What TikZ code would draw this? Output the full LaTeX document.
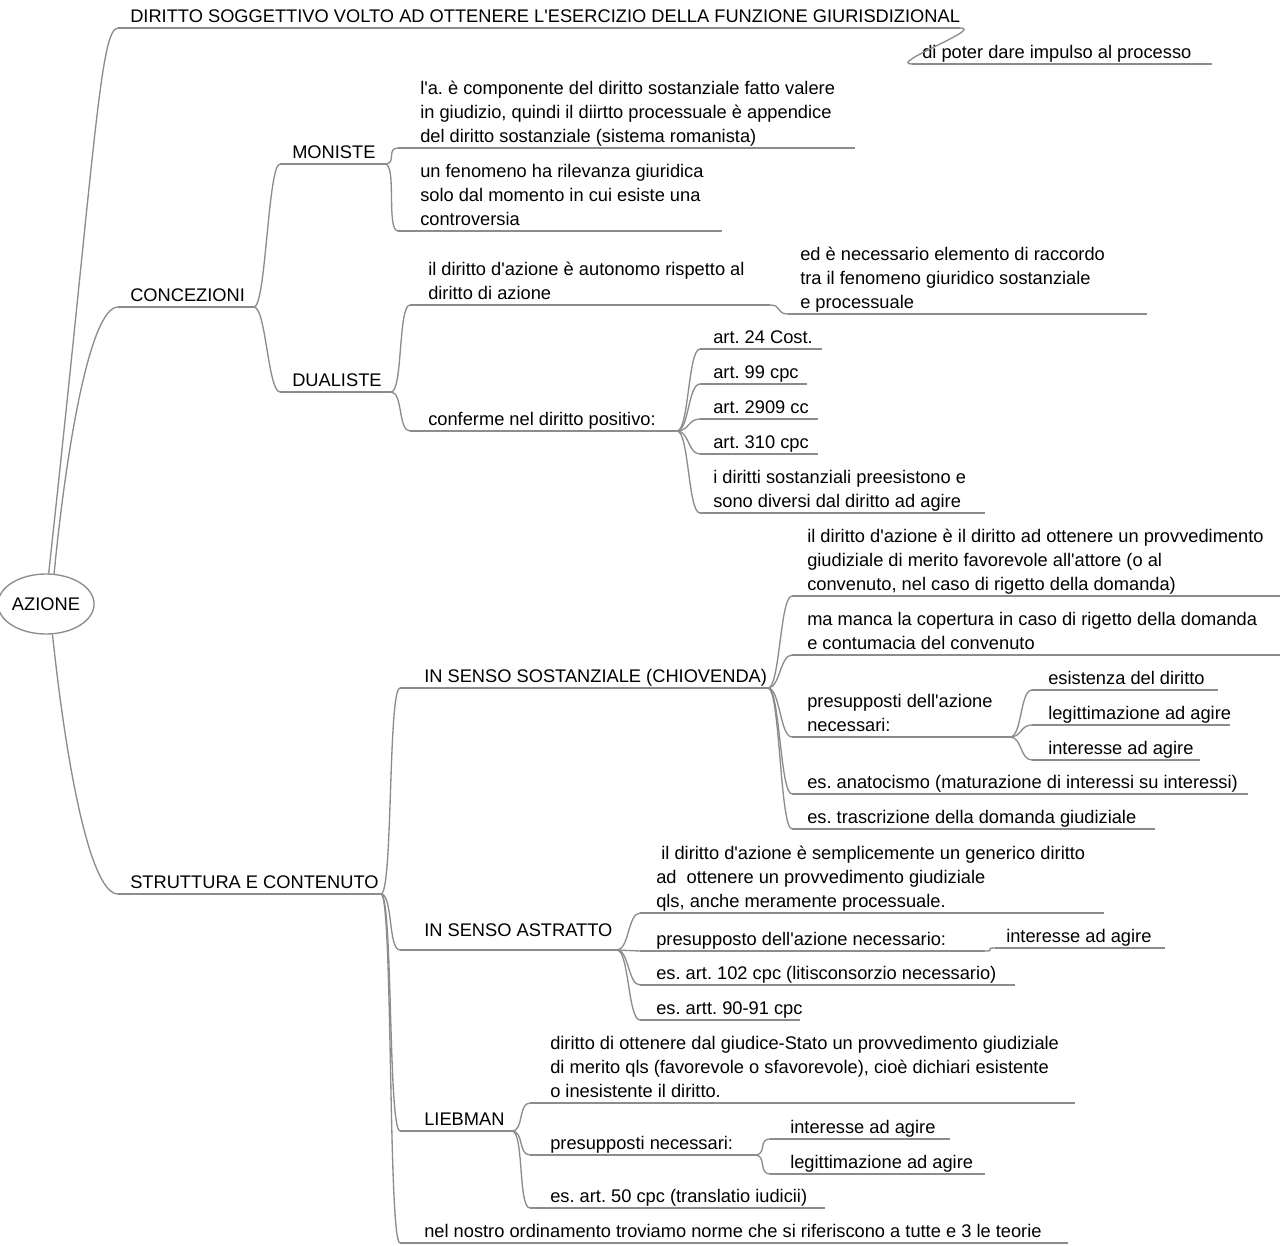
\documentclass[tikz,border=0pt]{standalone}
\usepackage{fontspec}
\setmainfont{Liberation Sans}[Ligatures=TeXOff]
\usetikzlibrary{shapes.geometric}
\definecolor{lc}{RGB}{140,140,140}
\newcommand\st{\rule[-4.2pt]{0pt}{13.8pt}}
\tikzset{
  txt/.style={inner sep=0pt, align=left, font=\fontsize{13.7}{18}\selectfont\frenchspacing},
  ul/.style={draw=lc, line width=1pt},
  br/.style={draw=lc, line width=1pt, to path={.. controls +(#1,0) and +(-#1,0) .. (\tikztotarget)}},
  br/.default=12
}
% name, underline left x, underline right x, underline y, text x, text bottom y, text
\newcommand\mmitem[7]{%
  \coordinate (#1-l) at (#2,#4);
  \coordinate (#1-r) at (#3,#4);
  \node[txt,anchor=south west] (#1) at (#5,#6) {#7};
  \draw[ul] (#1-l) -- (#1-r);
}
\frenchspacing
\begin{document}
\begin{tikzpicture}[x=0.75pt,y=-0.75pt]
\useasboundingbox (0,0) rectangle (1280,1245);
\node[draw=lc, line width=1pt, ellipse, minimum width=67.5pt, minimum height=45pt, inner sep=0pt, font=\fontsize{13.7}{18}\selectfont] (az) at (46,604) {AZIONE};

\mmitem{d1}{118}{960}{28}{130}{28}{\st DIRITTO SOGGETTIVO VOLTO AD OTTENERE L'ESERCIZIO DELLA FUNZIONE GIURISDIZIONAL}
\mmitem{d2}{912}{1212}{64}{922}{64}{\st di poter dare impulso al processo}
\mmitem{con}{118}{254}{307}{130}{307}{\st CONCEZIONI}
\mmitem{mon}{280}{385}{164}{292}{164}{\st MONISTE}
\mmitem{dua}{280}{391}{392}{292}{392}{\st DUALISTE}
\mmitem{m1}{398}{855}{148}{420}{148}{\st l'a. è componente del diritto sostanziale fatto valere\\\st in giudizio, quindi il diirtto processuale è appendice\\\st del diritto sostanziale (sistema romanista)}
\mmitem{m2}{398}{722}{231}{420}{231}{\st un fenomeno ha rilevanza giuridica\\\st solo dal momento in cui esiste una\\\st controversia}
\mmitem{du1}{410}{770}{305}{428}{305}{\st il diritto d'azione è autonomo rispetto al\\\st diritto di azione}
\mmitem{du1a}{788}{1147}{314}{800}{314}{\st ed è necessario elemento di raccordo\\\st tra il fenomeno giuridico sostanziale\\\st e processuale}
\mmitem{du2}{410}{677}{431}{428}{431}{\st conferme nel diritto positivo:}
\mmitem{a1}{700}{822}{349}{713}{349}{\st art. 24 Cost.}
\mmitem{a2}{700}{807}{384}{713}{384}{\st art. 99 cpc}
\mmitem{a3}{700}{818}{419}{713}{419}{\st art. 2909 cc}
\mmitem{a4}{700}{818}{454}{713}{454}{\st art. 310 cpc}
\mmitem{a5}{700}{985}{513}{713}{513}{\st i diritti sostanziali preesistono e\\\st sono diversi dal diritto ad agire}
\mmitem{str}{118}{381}{894}{130}{894}{\st STRUTTURA E CONTENUTO}
\mmitem{ch}{400}{768}{688}{424}{688}{\st IN SENSO SOSTANZIALE (CHIOVENDA)}
\mmitem{ch1}{792}{1280}{596}{807}{596}{\st il diritto d'azione è il diritto ad ottenere un provvedimento\\\st giudiziale di merito favorevole all'attore (o al\\\st convenuto, nel caso di rigetto della domanda)}
\mmitem{ch2}{792}{1280}{655}{807}{655}{\st ma manca la copertura in caso di rigetto della domanda\\\st e contumacia del convenuto}
\mmitem{ch3}{792}{1010}{737}{807}{737}{\st presupposti dell'azione\\\st necessari:}
\mmitem{ch3a}{1032}{1218}{690}{1048}{690}{\st esistenza del diritto}
\mmitem{ch3b}{1032}{1230}{725}{1048}{725}{\st legittimazione ad agire}
\mmitem{ch3c}{1032}{1200}{760}{1048}{760}{\st interesse ad agire}
\mmitem{ch4}{792}{1248}{794}{807}{794}{\st es. anatocismo (maturazione di interessi su interessi)}
\mmitem{ch5}{792}{1155}{829}{807}{829}{\st es. trascrizione della domanda giudiziale}
\mmitem{as}{400}{617}{950}{424}{942}{\st IN SENSO ASTRATTO}
\mmitem{as1}{640}{1104}{913}{656}{913}{\st\hspace{0.28em}il diritto d'azione è semplicemente un generico diritto\\\st ad\ \ ottenere un provvedimento giudiziale\\\st qls, anche meramente processuale.}
\mmitem{as2}{640}{985}{951}{656}{951}{\st presupposto dell'azione necessario:}
\mmitem{as2a}{995}{1165}{948}{1006}{948}{\st interesse ad agire}
\mmitem{as3}{640}{1015}{985}{656}{985}{\st es. art. 102 cpc (litisconsorzio necessario)}
\mmitem{as4}{640}{800}{1020}{656}{1020}{\st es. artt. 90-91 cpc}
\mmitem{lb}{400}{512}{1131}{424}{1131}{\st LIEBMAN}
\mmitem{l1}{530}{1075}{1103}{550}{1103}{\st diritto di ottenere dal giudice-Stato un provvedimento giudiziale\\\st di merito qls (favorevole o sfavorevole), cioè dichiari esistente\\\st o inesistente il diritto.}
\mmitem{l2}{530}{755}{1155}{550}{1155}{\st presupposti necessari:}
\mmitem{l2a}{770}{950}{1139}{790}{1139}{\st interesse ad agire}
\mmitem{l2b}{770}{985}{1174}{790}{1174}{\st legittimazione ad agire}
\mmitem{l3}{530}{825}{1208}{550}{1208}{\st es. art. 50 cpc (translatio iudicii)}
\mmitem{nel}{400}{1068}{1243}{424}{1243}{\st nel nostro ordinamento troviamo norme che si riferiscono a tutte e 3 le teorie}

% root connectors
\draw[ul] (az.85) .. controls (95,150) and (100,28) .. (d1-l);
\draw[ul] (az.75) .. controls (66,450) and (90,307) .. (con-l);
\draw[ul] (az.-78) .. controls (68,780) and (92,894) .. (str-l);
% branches
\draw[br=25] (d1-r) to (d2-l);
\draw[br] (con-r) to (mon-l);
\draw[br] (con-r) to (dua-l);
\draw[br] (mon-r) to (m1-l);
\draw[br] (mon-r) to (m2-l);
\draw[br] (dua-r) to (du1-l);
\draw[br] (dua-r) to (du2-l);
\draw[br] (du1-r) to (du1a-l);
\foreach \c in {a1,a2,a3,a4,a5} \draw[br] (du2-r) to (\c-l);
\foreach \c in {ch,as,lb,nel} \draw[br] (str-r) to (\c-l);
\foreach \c in {ch1,ch2,ch3,ch4,ch5} \draw[br] (ch-r) to (\c-l);
\foreach \c in {ch3a,ch3b,ch3c} \draw[br] (ch3-r) to (\c-l);
\foreach \c in {as1,as2,as3,as4} \draw[br] (as-r) to (\c-l);
\draw[br] (as2-r) to (as2a-l);
\foreach \c in {l1,l2,l3} \draw[br] (lb-r) to (\c-l);
\foreach \c in {l2a,l2b} \draw[br] (l2-r) to (\c-l);
\end{tikzpicture}
\end{document}
